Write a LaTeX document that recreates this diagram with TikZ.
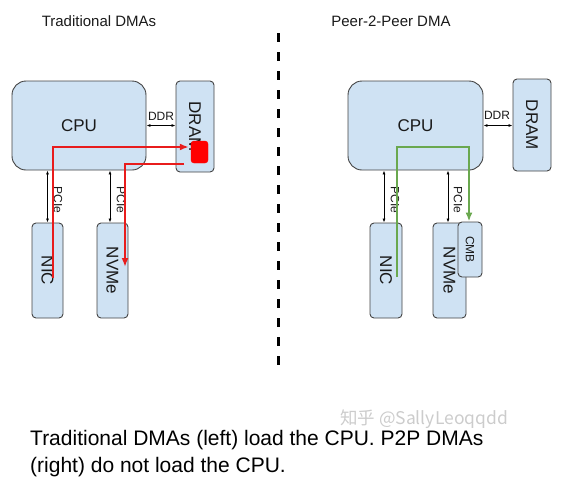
\documentclass[tikz,border=0pt]{standalone}
\usepackage{fontspec}
\setmainfont{Liberation Sans}
\newfontfamily\cjkfont{Noto Sans CJK SC}
\usetikzlibrary{arrows.meta}
\definecolor{boxfill}{HTML}{CFE2F3}
\definecolor{boxline}{HTML}{434343}
\definecolor{pathred}{HTML}{E81C1C}
\definecolor{sqred}{HTML}{FF0000}
\definecolor{pathgreen}{HTML}{6AA84F}
\definecolor{txt}{HTML}{1A1A1A}
\begin{document}
\begin{tikzpicture}[x=1pt,y=-1pt,
  blk/.style={draw=boxline, fill=boxfill, line width=0.9pt, rounded corners=4pt, inner sep=0pt},
  cpubox/.style={blk, rounded corners=14pt, font=\fontsize{17}{17}\selectfont, text=txt},
  lbl/.style={font=\fontsize{17}{17}\selectfont, text=txt, inner sep=0pt},
  smalllbl/.style={font=\fontsize{12}{12}\selectfont, text=txt, inner sep=0pt},
  bus/.style={{Latex[length=4pt,width=3pt]}-{Latex[length=4pt,width=3pt]}, line width=0.8pt, draw=black},
  redpath/.style={draw=pathred, line width=2pt, -{Latex[length=9pt,width=7pt]}},
  greenpath/.style={draw=pathgreen, line width=2pt, -{Latex[length=9pt,width=7pt]}},
  title/.style={font=\fontsize{15}{15}\selectfont, text=txt, anchor=base},
  caption/.style={font=\fontsize{21}{21}\selectfont, text=black, anchor=base west, inner sep=0pt}
]
\useasboundingbox (0,0) rectangle (581,480);

% titles
\node[title] (tleft) at (99,26) {Traditional DMAs};
\node[title] (tright) at (391,26) {Peer-2-Peer DMA};

% separator
\coordinate (dtop) at (278,33);
\coordinate (dbot) at (278,369);
\draw[line width=3pt, dash pattern=on 9pt off 10pt] (dtop) -- (dbot);

% ---------- left: traditional ----------
\node[cpubox, minimum width=134pt, minimum height=89pt] (cpuL) at (79,125.5) {CPU};
\node[blk, minimum width=38pt, minimum height=91pt] (dramL) at (195,126.5) {};
\node[lbl, rotate=-90] (dramLt) at (dramL) {DRAM};
\node[blk, minimum width=31pt, minimum height=95pt] (nicL) at (47.5,270.5) {};
\node[lbl, rotate=-90] (nicLt) at (nicL) {NIC};
\node[blk, minimum width=31pt, minimum height=95pt] (nvmeL) at (112.5,270.5) {};
\node[lbl, rotate=-90] (nvmeLt) at (nvmeL) {NVMe};
\node[draw=sqred, fill=sqred, rounded corners=3pt, minimum width=17pt, minimum height=22pt, inner sep=0pt] (redsq) at (199.5,152) {};

\draw[bus] (cpuL.east) -- (cpuL.east -| dramL.west);
\node[smalllbl] (ddrL) at (161,116) {DDR};
\draw[bus] (nicL.north) -- (nicL.north |- cpuL.south);
\node[smalllbl, rotate=-90] (pcieL1) at (58,200) {PCIe};
\draw[bus] ([xshift=-2.5pt]nvmeL.north) -- ([xshift=-2.5pt]nvmeL.north |- cpuL.south);
\node[smalllbl, rotate=-90] (pcieL2) at (121,200) {PCIe};

\coordinate (r1s) at (53,278);
\draw[redpath] (r1s) |- ([yshift=5pt,xshift=-2pt]redsq.west);
\coordinate (r2s) at (184,164);
\coordinate (r2e) at (125,267);
\draw[redpath] (r2s) -| (r2e);

% ---------- right: peer-2-peer ----------
\node[cpubox, minimum width=135pt, minimum height=89pt] (cpuR) at (415.5,125.5) {CPU};
\node[blk, minimum width=38pt, minimum height=92pt] (dramR) at (532,125) {};
\node[lbl, rotate=-90] (dramRt) at (dramR) {DRAM};
\node[blk, minimum width=32pt, minimum height=95pt] (nicR) at (386,270.5) {};
\node[lbl, rotate=-90] (nicRt) at (nicR) {NIC};
\node[blk, minimum width=33pt, minimum height=95pt] (nvmeR) at (449.5,270.5) {};
\node[lbl, rotate=-90] (nvmeRt) at (nvmeR) {NVMe};
\node[blk, minimum width=24pt, minimum height=55pt] (cmbR) at (470,249.5) {};
\node[smalllbl, rotate=-90] (cmbRt) at (cmbR) {CMB};

\draw[bus] (cpuR.east) -- (cpuR.east -| dramR.west);
\node[smalllbl] (ddrR) at (497,115) {DDR};
\draw[bus] ([xshift=-2pt]nicR.north) -- ([xshift=-2pt]nicR.north |- cpuR.south);
\node[smalllbl, rotate=-90] (pcieR1) at (395,200) {PCIe};
\draw[bus] ([xshift=-1.5pt]nvmeR.north) -- ([xshift=-1.5pt]nvmeR.north |- cpuR.south);
\node[smalllbl, rotate=-90] (pcieR2) at (458,200) {PCIe};

\coordinate (gs) at (397,277);
\coordinate (gc) at (469,147);
\draw[greenpath] (gs) |- (gc) -- (gc |- cmbR.north);

% ---------- caption ----------
\node[font=\cjkfont\fontsize{17.5}{17.5}\selectfont, text=black!20, anchor=base west, inner sep=0pt] (wm) at (340,424) {知乎 @SallyLeoqqdd};
\node[caption] (cap1) at (30,445) {Traditional DMAs (left) load the CPU. P2P DMAs};
\node[caption] (cap2) at (30,472) {(right) do not load the CPU.};
\end{tikzpicture}
\end{document}
